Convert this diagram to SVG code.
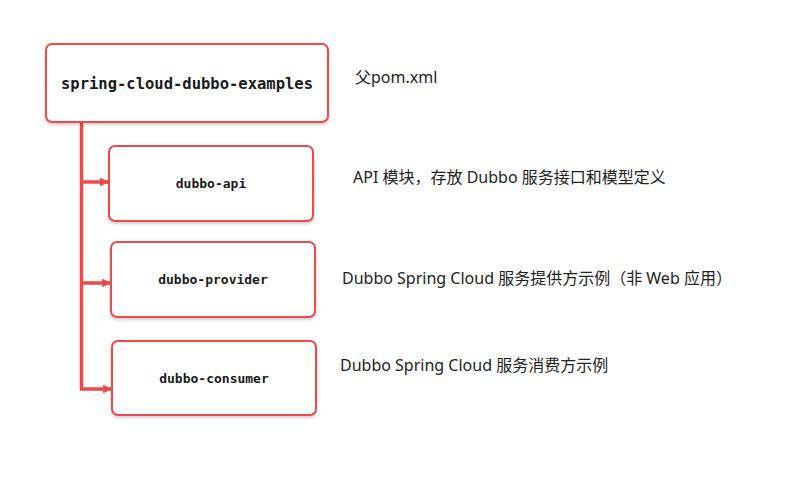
<svg xmlns="http://www.w3.org/2000/svg" width="806" height="498" viewBox="0 0 806 498">
<defs>
<filter id="sh" x="-10%" y="-10%" width="120%" height="130%">
<feDropShadow dx="0" dy="2" stdDeviation="1.5" flood-color="#000" flood-opacity="0.18"/>
</filter>
<marker id="ah" viewBox="0 0 10 10" refX="9" refY="5" markerWidth="2.5" markerHeight="2.5" orient="auto" markerUnits="strokeWidth">
<path d="M0,0 L10,5 L0,10 z" fill="#ef4a4a"/>
</marker>
</defs>
<style>
.box{fill:#fff;stroke:#ef4a4a;stroke-width:2;filter:url(#sh)}
.mono{font-family:"DejaVu Sans Mono","Liberation Mono",monospace;font-weight:bold;fill:#1a1a1a;text-anchor:middle}
.desc{font-family:"Noto Sans","Noto Sans CJK SC",sans-serif;font-size:16px;fill:#222}
.con{fill:none;stroke:#ef4a4a;stroke-width:3.5}
</style>
<rect width="806" height="498" fill="#fff"/>
<g id="connectors">
<path class="con" d="M81.5,122 V390"/>
<path class="con" d="M80,182 H108" marker-end="url(#ah)"/>
<path class="con" d="M80,283 H110" marker-end="url(#ah)"/>
<path class="con" d="M80,389 H111" marker-end="url(#ah)"/>
</g>
<g id="root">
<rect class="box" x="46" y="44" width="282" height="78" rx="6"/>
<text class="mono" x="187" y="89" font-size="15.5">spring-cloud-dubbo-examples</text>
</g>
<g id="api">
<rect class="box" x="109" y="146" width="204" height="75" rx="6"/>
<text class="mono" x="211" y="188" font-size="13">dubbo-api</text>
</g>
<g id="provider">
<rect class="box" x="111" y="242" width="204" height="75" rx="6"/>
<text class="mono" x="213" y="284" font-size="13">dubbo-provider</text>
</g>
<g id="consumer">
<rect class="box" x="112" y="341" width="204" height="74" rx="6"/>
<text class="mono" x="214" y="383" font-size="13">dubbo-consumer</text>
</g>
<g id="labels">
<text class="desc" x="355" y="83">父pom.xml</text>
<text class="desc" x="353" y="183">API 模块，存放 Dubbo 服务接口和模型定义</text>
<text class="desc" x="342" y="284">Dubbo Spring Cloud 服务提供方示例（非 Web 应用）</text>
<text class="desc" x="340" y="371">Dubbo Spring Cloud 服务消费方示例</text>
</g>
</svg>
